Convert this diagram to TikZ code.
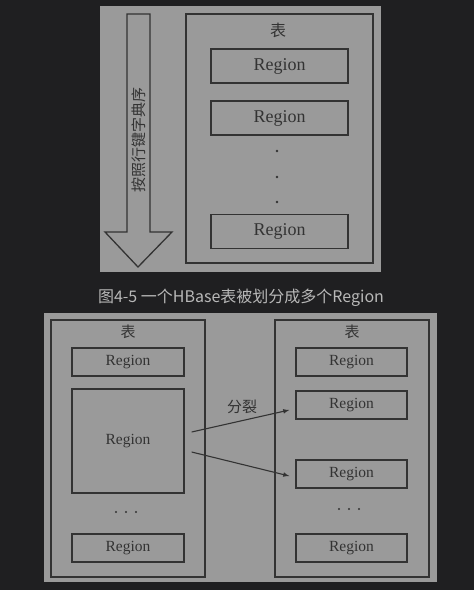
\documentclass[tikz,border=0pt]{standalone}
\usepackage{fontspec}
\setmainfont{Liberation Serif}
\newfontfamily\cjk{Noto Sans CJK SC}
\newfontfamily\capfont{Noto Sans CJK SC}
\usetikzlibrary{calc}
\definecolor{bgdark}{HTML}{1F1F21}
\definecolor{panel}{HTML}{9A9A9A}
\definecolor{ink}{HTML}{333333}
\definecolor{captxt}{HTML}{B8B8B8}
\begin{document}
\begin{tikzpicture}[x=1pt,y=-1pt,
  boxline/.style={draw=ink,line width=1.3pt},
  regbig/.style={boxline,minimum width=137pt,minimum height=34pt,inner sep=0pt,font=\fontsize{18}{18}\selectfont,text=ink},
  regsmall/.style={boxline,minimum width=112pt,minimum height=28pt,inner sep=0pt,font=\fontsize{15.5}{15.5}\selectfont,text=ink},
  title/.style={text=ink,inner sep=0pt},
  dotmark/.style={fill=ink}]
\useasboundingbox (0,0) rectangle (474,590);
\fill[bgdark] (0,0) rectangle (474,590);
% top panel
\fill[panel] (100,6) rectangle (381,272);
\draw[boxline] (127,14) -- (150,14) -- (150,232) -- (172,232) -- (138,267) -- (105,232) -- (127,232) -- cycle;
\node[title,rotate=90,font=\cjk\fontsize{15}{15}\selectfont] (sortlbl) at (138.5,140) {按照行键字典序};
\node[boxline,minimum width=187pt,minimum height=249pt,inner sep=0pt] (tbl) at (279.5,138.5) {};
\node[title,font=\cjk\fontsize{16}{16}\selectfont] (tbltitle) at (278,30) {表};
\node[regbig] (t1) at (279.5,66) {Region};
\node[regbig] (t2) at (279.5,118) {Region};
\node[regbig] (t3) at (279.5,231.5) {Region};
\foreach \yy in {151,177,202}{\fill[dotmark] (277,\yy) circle (1.4pt);}
% caption
\node[text=captxt,inner sep=0pt,font=\capfont\fontsize{16}{16}\selectfont] (cap) at (241,298) {图4-5 一个HBase表被划分成多个Region};
% bottom panel
\fill[panel] (44,313) rectangle (437,582);
\node[boxline,minimum width=154pt,minimum height=257pt,inner sep=0pt] (ltbl) at (128,448.5) {};
\node[title,font=\cjk\fontsize{15}{15}\selectfont] (ltitle) at (128,332) {表};
\node[regsmall] (l1) at (128,362) {Region};
\node[regsmall,minimum height=104pt] (big) at (128,441) {Region};
\foreach \xx in {116,126,136}{\fill[dotmark] (\xx,512) circle (1.1pt);}
\node[regsmall] (l3) at (128,548) {Region};
\node[boxline,minimum width=154pt,minimum height=257pt,inner sep=0pt] (rtbl) at (352,448.5) {};
\node[title,font=\cjk\fontsize{15}{15}\selectfont] (rtitle) at (352,332) {表};
\node[regsmall,minimum width=111pt] (r1) at (351.5,362) {Region};
\node[regsmall,minimum width=111pt] (r2) at (351.5,405) {Region};
\node[regsmall,minimum width=111pt] (r3) at (351.5,474) {Region};
\foreach \xx in {339,349,359}{\fill[dotmark] (\xx,509) circle (1.1pt);}
\node[regsmall,minimum width=111pt] (r4) at (351.5,548) {Region};
\coordinate (s1) at ($(big.east)+(7,-9)$);
\coordinate (s2) at ($(big.east)+(7,11)$);
\coordinate (e1) at ($(r2.west)+(-6,5)$);
\coordinate (e2) at ($(r3.west)+(-6,2)$);
\draw[ink,line width=1.1pt,-latex] (s1) -- (e1);
\draw[ink,line width=1.1pt,-latex] (s2) -- (e2);
\node[title,font=\cjk\fontsize{15}{15}\selectfont] (split) at (242,407) {分裂};
\end{tikzpicture}
\end{document}
